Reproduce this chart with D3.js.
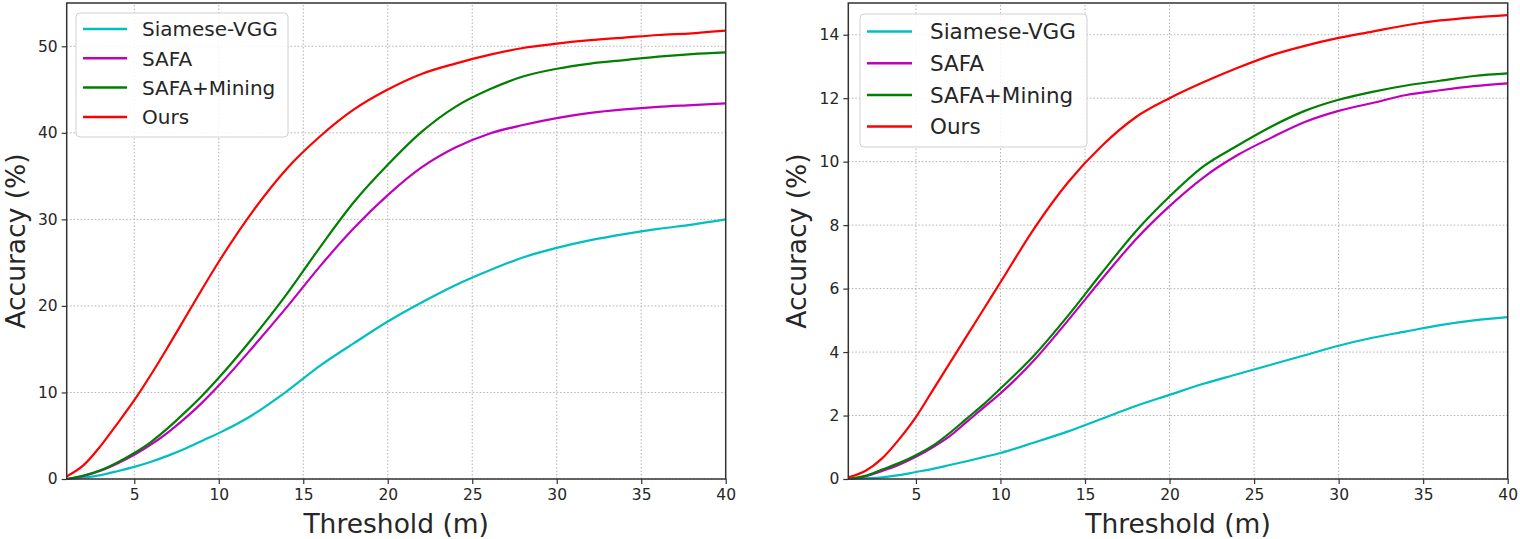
<!DOCTYPE html>
<html>
<head>
<meta charset="utf-8">
<script src="https://d3js.org/d3.v7.min.js"></script>
<style>
  body { margin: 0; background: #fff; }
  text { font-family: "DejaVu Sans", sans-serif; fill: #262626; }
</style>
</head>
<body>
<svg id="chart" width="1520" height="539"></svg>
<script>
var thresholds = [1, 2, 3, 4, 5, 6, 7, 8, 9, 10, 12, 14, 16, 18, 20, 22, 24, 26, 28, 30, 32, 34, 36, 38, 40];

var methods = ["Siamese-VGG", "SAFA", "SAFA+Mining", "Ours"];
var colors = ["#00bfbf", "#bf00bf", "#008000", "#ff0000"];

// left panel accuracy (%)
var leftSiamese = [0, 0.15, 0.45, 0.9, 1.4, 2.0, 2.7, 3.5, 4.4, 5.3, 7.4, 10.1, 13.1, 15.7, 18.2, 20.4, 22.4, 24.1, 25.6, 26.7, 27.6, 28.3, 28.9, 29.4, 30.0];
var leftSafa = [0, 0.35, 0.95, 1.8, 2.8, 4.0, 5.4, 7.0, 8.8, 10.8, 15.2, 19.8, 24.6, 29.0, 32.8, 36.0, 38.3, 39.9, 40.9, 41.7, 42.3, 42.7, 43.0, 43.2, 43.4];
var leftMining = [0, 0.4, 1.0, 1.9, 3.0, 4.3, 5.9, 7.7, 9.6, 11.7, 16.3, 21.3, 26.8, 32.0, 36.3, 40.1, 43.0, 45.0, 46.5, 47.4, 48.0, 48.4, 48.8, 49.1, 49.3];
var leftOurs = [0.3, 1.6, 3.8, 6.4, 9.1, 12.1, 15.3, 18.6, 21.9, 25.1, 30.9, 35.8, 39.6, 42.7, 45.0, 46.8, 48.0, 49.0, 49.8, 50.3, 50.7, 51.0, 51.3, 51.5, 51.8];

// right panel accuracy (%)
var rightSiamese = [0, 0.02, 0.05, 0.12, 0.22, 0.32, 0.44, 0.56, 0.69, 0.82, 1.15, 1.5, 1.9, 2.3, 2.65, 3.0, 3.3, 3.6, 3.9, 4.2, 4.45, 4.65, 4.85, 5.0, 5.1];
var rightSafa = [0, 0.08, 0.25, 0.45, 0.7, 1.0, 1.35, 1.8, 2.25, 2.7, 3.75, 5.0, 6.3, 7.55, 8.6, 9.5, 10.2, 10.75, 11.25, 11.6, 11.85, 12.1, 12.25, 12.38, 12.47];
var rightMining = [0, 0.1, 0.3, 0.5, 0.75, 1.05, 1.45, 1.9, 2.35, 2.85, 3.9, 5.15, 6.5, 7.8, 8.9, 9.85, 10.5, 11.1, 11.6, 11.95, 12.2, 12.4, 12.55, 12.7, 12.78];
var rightOurs = [0.05, 0.25, 0.65, 1.25, 1.95, 2.8, 3.65, 4.5, 5.35, 6.2, 7.9, 9.35, 10.5, 11.4, 12.0, 12.5, 12.95, 13.35, 13.65, 13.9, 14.1, 14.3, 14.45, 14.55, 14.62];

var xTicks = [5, 10, 15, 20, 25, 30, 35, 40];
var leftYTicks = [0, 10, 20, 30, 40, 50];
var rightYTicks = [0, 2, 4, 6, 8, 10, 12, 14];

var svg = d3.select("#chart");

function panel(opt) {
  var x = d3.scaleLinear().domain([1, 40]).range([opt.left, opt.right]);
  var y = d3.scaleLinear().domain([0, opt.ymax]).range([479, 3]);
  var g = svg.append("g");

  // grid
  g.selectAll("line.gx").data(xTicks).enter().append("line")
    .attr("x1", function(d){ return x(d); }).attr("x2", function(d){ return x(d); })
    .attr("y1", y.range()[0]).attr("y2", y.range()[1])
    .attr("stroke", "#b0b0b0").attr("stroke-width", 1).attr("stroke-dasharray", "1.5,2");
  g.selectAll("line.gy").data(opt.yticks).enter().append("line")
    .attr("x1", opt.left).attr("x2", opt.right)
    .attr("y1", function(d){ return y(d); }).attr("y2", function(d){ return y(d); })
    .attr("stroke", "#b0b0b0").attr("stroke-width", 1).attr("stroke-dasharray", "1.5,2");

  // curves
  var line = d3.line()
    .x(function(d, i){ return x(thresholds[i]); })
    .y(function(d){ return y(d); })
    .curve(d3.curveMonotoneX);
  opt.series.forEach(function(s, i){
    g.append("path").attr("d", line(s))
      .attr("fill", "none").attr("stroke", colors[i]).attr("stroke-width", 2.2);
  });

  // axes
  var xAxis = g.append("g").attr("transform", "translate(0,479)")
    .call(d3.axisBottom(x).tickValues(xTicks).tickSize(5).tickPadding(5));
  var yAxis = g.append("g").attr("transform", "translate(" + opt.left + ",0)")
    .call(d3.axisLeft(y).tickValues(opt.yticks).tickSize(5).tickPadding(4));
  [xAxis, yAxis].forEach(function(a){
    a.select(".domain").remove();
    a.selectAll("line").attr("stroke", "#333").attr("stroke-width", 1.2);
    a.selectAll("text").attr("font-size", "15.5px").attr("fill", "#262626")
      .attr("font-family", "DejaVu Sans");
  });

  // frame
  g.append("rect").attr("x", opt.left).attr("y", 3)
    .attr("width", opt.right - opt.left).attr("height", 476)
    .attr("fill", "none").attr("stroke", "#333").attr("stroke-width", 1.5);

  // axis labels
  g.append("text").attr("x", (opt.left + opt.right) / 2).attr("y", 533)
    .attr("text-anchor", "middle").attr("font-size", "26.5px").text("Threshold (m)");
  g.append("text")
    .attr("transform", "translate(" + (opt.left - 42) + ",241) rotate(-90)")
    .attr("text-anchor", "middle").attr("font-size", "26.5px").text("Accuracy (%)");

  // legend
  var lg = opt.legend;
  g.append("rect").attr("x", lg.x).attr("y", lg.y).attr("width", lg.w).attr("height", lg.h)
    .attr("rx", 4).attr("fill", "rgba(255,255,255,0.85)").attr("stroke", "#d0d0d0").attr("stroke-width", 1);
  methods.forEach(function(m, i){
    var cy = lg.y + lg.first + i * lg.step;
    g.append("line").attr("x1", lg.x + lg.lx).attr("x2", lg.x + lg.lx + lg.len)
      .attr("y1", cy).attr("y2", cy).attr("stroke", colors[i]).attr("stroke-width", 2.5);
    g.append("text").attr("x", lg.x + lg.tx).attr("y", cy).attr("dy", "0.36em")
      .attr("font-size", lg.fs + "px").text(m);
  });
}

panel({
  left: 66.7, right: 725.7, ymax: 55, yticks: leftYTicks,
  series: [leftSiamese, leftSafa, leftMining, leftOurs],
  legend: { x: 76, y: 13, w: 212, h: 124, first: 16, step: 29.3, lx: 7, len: 44, tx: 66, fs: 20 }
});
panel({
  left: 848.3, right: 1507.7, ymax: 15, yticks: rightYTicks,
  series: [rightSiamese, rightSafa, rightMining, rightOurs],
  legend: { x: 860, y: 14, w: 227, h: 133, first: 17.5, step: 31.7, lx: 7, len: 45, tx: 70, fs: 21.5 }
});
</script>
</body>
</html>
